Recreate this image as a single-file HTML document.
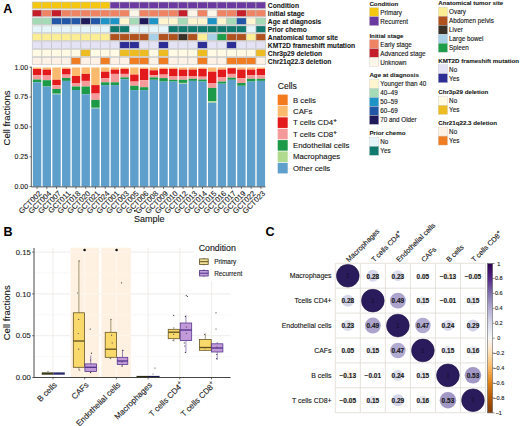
<!DOCTYPE html>
<html><head><meta charset="utf-8"><style>
html,body{margin:0;padding:0;background:#fff;width:520px;height:426px;overflow:hidden;position:relative}
text{stroke:#1a1a1a;stroke-width:0.12px;stroke-linejoin:round}
text[font-weight=bold]{stroke-width:0.08px}
</style></head><body>
<svg width="520" height="426" viewBox="0 0 520 426" style="position:absolute;left:0;top:0;font-family:'Liberation Sans', sans-serif"><rect width="520" height="426" fill="#fff"/><text x="3.2" y="12.7" font-size="12.5" font-weight="bold" fill="#000">A</text><text x="3.6" y="236.2" font-size="12.5" font-weight="bold" fill="#000">B</text><text x="265.6" y="235.9" font-size="12.5" font-weight="bold" fill="#000">C</text><rect x="32.20" y="2.00" width="9.73" height="6.6" fill="#F5C710" stroke="#BEBEBE" stroke-width="0.6"/><rect x="41.93" y="2.00" width="9.73" height="6.6" fill="#F5C710" stroke="#BEBEBE" stroke-width="0.6"/><rect x="51.66" y="2.00" width="9.73" height="6.6" fill="#F5C710" stroke="#BEBEBE" stroke-width="0.6"/><rect x="61.39" y="2.00" width="9.73" height="6.6" fill="#F5C710" stroke="#BEBEBE" stroke-width="0.6"/><rect x="71.12" y="2.00" width="9.73" height="6.6" fill="#F5C710" stroke="#BEBEBE" stroke-width="0.6"/><rect x="80.85" y="2.00" width="9.73" height="6.6" fill="#F5C710" stroke="#BEBEBE" stroke-width="0.6"/><rect x="90.58" y="2.00" width="9.73" height="6.6" fill="#F5C710" stroke="#BEBEBE" stroke-width="0.6"/><rect x="100.31" y="2.00" width="9.73" height="6.6" fill="#F5C710" stroke="#BEBEBE" stroke-width="0.6"/><rect x="110.04" y="2.00" width="9.73" height="6.6" fill="#6A3AA0" stroke="#BEBEBE" stroke-width="0.6"/><rect x="119.77" y="2.00" width="9.73" height="6.6" fill="#6A3AA0" stroke="#BEBEBE" stroke-width="0.6"/><rect x="129.50" y="2.00" width="9.73" height="6.6" fill="#6A3AA0" stroke="#BEBEBE" stroke-width="0.6"/><rect x="139.23" y="2.00" width="9.73" height="6.6" fill="#6A3AA0" stroke="#BEBEBE" stroke-width="0.6"/><rect x="148.96" y="2.00" width="9.73" height="6.6" fill="#6A3AA0" stroke="#BEBEBE" stroke-width="0.6"/><rect x="158.69" y="2.00" width="9.73" height="6.6" fill="#6A3AA0" stroke="#BEBEBE" stroke-width="0.6"/><rect x="168.42" y="2.00" width="9.73" height="6.6" fill="#6A3AA0" stroke="#BEBEBE" stroke-width="0.6"/><rect x="178.15" y="2.00" width="9.73" height="6.6" fill="#6A3AA0" stroke="#BEBEBE" stroke-width="0.6"/><rect x="187.88" y="2.00" width="9.73" height="6.6" fill="#6A3AA0" stroke="#BEBEBE" stroke-width="0.6"/><rect x="197.61" y="2.00" width="9.73" height="6.6" fill="#6A3AA0" stroke="#BEBEBE" stroke-width="0.6"/><rect x="207.34" y="2.00" width="9.73" height="6.6" fill="#6A3AA0" stroke="#BEBEBE" stroke-width="0.6"/><rect x="217.07" y="2.00" width="9.73" height="6.6" fill="#6A3AA0" stroke="#BEBEBE" stroke-width="0.6"/><rect x="226.80" y="2.00" width="9.73" height="6.6" fill="#6A3AA0" stroke="#BEBEBE" stroke-width="0.6"/><rect x="236.53" y="2.00" width="9.73" height="6.6" fill="#6A3AA0" stroke="#BEBEBE" stroke-width="0.6"/><rect x="246.26" y="2.00" width="9.73" height="6.6" fill="#6A3AA0" stroke="#BEBEBE" stroke-width="0.6"/><rect x="255.99" y="2.00" width="9.73" height="6.6" fill="#6A3AA0" stroke="#BEBEBE" stroke-width="0.6"/><rect x="32.20" y="9.95" width="9.73" height="6.6" fill="#C41E2A" stroke="#BEBEBE" stroke-width="0.6"/><rect x="41.93" y="9.95" width="9.73" height="6.6" fill="#EE8464" stroke="#BEBEBE" stroke-width="0.6"/><rect x="51.66" y="9.95" width="9.73" height="6.6" fill="#C41E2A" stroke="#BEBEBE" stroke-width="0.6"/><rect x="61.39" y="9.95" width="9.73" height="6.6" fill="#EE8464" stroke="#BEBEBE" stroke-width="0.6"/><rect x="71.12" y="9.95" width="9.73" height="6.6" fill="#EE8464" stroke="#BEBEBE" stroke-width="0.6"/><rect x="80.85" y="9.95" width="9.73" height="6.6" fill="#EE8464" stroke="#BEBEBE" stroke-width="0.6"/><rect x="90.58" y="9.95" width="9.73" height="6.6" fill="#EE8464" stroke="#BEBEBE" stroke-width="0.6"/><rect x="100.31" y="9.95" width="9.73" height="6.6" fill="#EE8464" stroke="#BEBEBE" stroke-width="0.6"/><rect x="110.04" y="9.95" width="9.73" height="6.6" fill="#EE8464" stroke="#BEBEBE" stroke-width="0.6"/><rect x="119.77" y="9.95" width="9.73" height="6.6" fill="#EE8464" stroke="#BEBEBE" stroke-width="0.6"/><rect x="129.50" y="9.95" width="9.73" height="6.6" fill="#FDF6E8" stroke="#BEBEBE" stroke-width="0.6"/><rect x="139.23" y="9.95" width="9.73" height="6.6" fill="#EE8464" stroke="#BEBEBE" stroke-width="0.6"/><rect x="148.96" y="9.95" width="9.73" height="6.6" fill="#EE8464" stroke="#BEBEBE" stroke-width="0.6"/><rect x="158.69" y="9.95" width="9.73" height="6.6" fill="#EE8464" stroke="#BEBEBE" stroke-width="0.6"/><rect x="168.42" y="9.95" width="9.73" height="6.6" fill="#EE8464" stroke="#BEBEBE" stroke-width="0.6"/><rect x="178.15" y="9.95" width="9.73" height="6.6" fill="#C41E2A" stroke="#BEBEBE" stroke-width="0.6"/><rect x="187.88" y="9.95" width="9.73" height="6.6" fill="#FDF6E8" stroke="#BEBEBE" stroke-width="0.6"/><rect x="197.61" y="9.95" width="9.73" height="6.6" fill="#EE8464" stroke="#BEBEBE" stroke-width="0.6"/><rect x="207.34" y="9.95" width="9.73" height="6.6" fill="#FDF6E8" stroke="#BEBEBE" stroke-width="0.6"/><rect x="217.07" y="9.95" width="9.73" height="6.6" fill="#EE8464" stroke="#BEBEBE" stroke-width="0.6"/><rect x="226.80" y="9.95" width="9.73" height="6.6" fill="#EE8464" stroke="#BEBEBE" stroke-width="0.6"/><rect x="236.53" y="9.95" width="9.73" height="6.6" fill="#C41E2A" stroke="#BEBEBE" stroke-width="0.6"/><rect x="246.26" y="9.95" width="9.73" height="6.6" fill="#EE8464" stroke="#BEBEBE" stroke-width="0.6"/><rect x="255.99" y="9.95" width="9.73" height="6.6" fill="#EE8464" stroke="#BEBEBE" stroke-width="0.6"/><rect x="32.20" y="17.90" width="9.73" height="6.6" fill="#A5DAB6" stroke="#BEBEBE" stroke-width="0.6"/><rect x="41.93" y="17.90" width="9.73" height="6.6" fill="#A5DAB6" stroke="#BEBEBE" stroke-width="0.6"/><rect x="51.66" y="17.90" width="9.73" height="6.6" fill="#2157A6" stroke="#BEBEBE" stroke-width="0.6"/><rect x="61.39" y="17.90" width="9.73" height="6.6" fill="#2157A6" stroke="#BEBEBE" stroke-width="0.6"/><rect x="71.12" y="17.90" width="9.73" height="6.6" fill="#2157A6" stroke="#BEBEBE" stroke-width="0.6"/><rect x="80.85" y="17.90" width="9.73" height="6.6" fill="#1F1A5A" stroke="#BEBEBE" stroke-width="0.6"/><rect x="90.58" y="17.90" width="9.73" height="6.6" fill="#2157A6" stroke="#BEBEBE" stroke-width="0.6"/><rect x="100.31" y="17.90" width="9.73" height="6.6" fill="#1E93C6" stroke="#BEBEBE" stroke-width="0.6"/><rect x="110.04" y="17.90" width="9.73" height="6.6" fill="#1E93C6" stroke="#BEBEBE" stroke-width="0.6"/><rect x="119.77" y="17.90" width="9.73" height="6.6" fill="#FFF6CF" stroke="#BEBEBE" stroke-width="0.6"/><rect x="129.50" y="17.90" width="9.73" height="6.6" fill="#A5DAB6" stroke="#BEBEBE" stroke-width="0.6"/><rect x="139.23" y="17.90" width="9.73" height="6.6" fill="#1F1A5A" stroke="#BEBEBE" stroke-width="0.6"/><rect x="148.96" y="17.90" width="9.73" height="6.6" fill="#1E93C6" stroke="#BEBEBE" stroke-width="0.6"/><rect x="158.69" y="17.90" width="9.73" height="6.6" fill="#FFF6CF" stroke="#BEBEBE" stroke-width="0.6"/><rect x="168.42" y="17.90" width="9.73" height="6.6" fill="#FFF6CF" stroke="#BEBEBE" stroke-width="0.6"/><rect x="178.15" y="17.90" width="9.73" height="6.6" fill="#A5DAB6" stroke="#BEBEBE" stroke-width="0.6"/><rect x="187.88" y="17.90" width="9.73" height="6.6" fill="#FFF6CF" stroke="#BEBEBE" stroke-width="0.6"/><rect x="197.61" y="17.90" width="9.73" height="6.6" fill="#FFF6CF" stroke="#BEBEBE" stroke-width="0.6"/><rect x="207.34" y="17.90" width="9.73" height="6.6" fill="#1E93C6" stroke="#BEBEBE" stroke-width="0.6"/><rect x="217.07" y="17.90" width="9.73" height="6.6" fill="#FFF6CF" stroke="#BEBEBE" stroke-width="0.6"/><rect x="226.80" y="17.90" width="9.73" height="6.6" fill="#A5DAB6" stroke="#BEBEBE" stroke-width="0.6"/><rect x="236.53" y="17.90" width="9.73" height="6.6" fill="#2157A6" stroke="#BEBEBE" stroke-width="0.6"/><rect x="246.26" y="17.90" width="9.73" height="6.6" fill="#FFF6CF" stroke="#BEBEBE" stroke-width="0.6"/><rect x="255.99" y="17.90" width="9.73" height="6.6" fill="#A5DAB6" stroke="#BEBEBE" stroke-width="0.6"/><rect x="32.20" y="25.85" width="9.73" height="6.6" fill="#E6F5F9" stroke="#BEBEBE" stroke-width="0.6"/><rect x="41.93" y="25.85" width="9.73" height="6.6" fill="#E6F5F9" stroke="#BEBEBE" stroke-width="0.6"/><rect x="51.66" y="25.85" width="9.73" height="6.6" fill="#E6F5F9" stroke="#BEBEBE" stroke-width="0.6"/><rect x="61.39" y="25.85" width="9.73" height="6.6" fill="#E6F5F9" stroke="#BEBEBE" stroke-width="0.6"/><rect x="71.12" y="25.85" width="9.73" height="6.6" fill="#E6F5F9" stroke="#BEBEBE" stroke-width="0.6"/><rect x="80.85" y="25.85" width="9.73" height="6.6" fill="#E6F5F9" stroke="#BEBEBE" stroke-width="0.6"/><rect x="90.58" y="25.85" width="9.73" height="6.6" fill="#E6F5F9" stroke="#BEBEBE" stroke-width="0.6"/><rect x="100.31" y="25.85" width="9.73" height="6.6" fill="#E6F5F9" stroke="#BEBEBE" stroke-width="0.6"/><rect x="110.04" y="25.85" width="9.73" height="6.6" fill="#12796F" stroke="#BEBEBE" stroke-width="0.6"/><rect x="119.77" y="25.85" width="9.73" height="6.6" fill="#12796F" stroke="#BEBEBE" stroke-width="0.6"/><rect x="129.50" y="25.85" width="9.73" height="6.6" fill="#E6F5F9" stroke="#BEBEBE" stroke-width="0.6"/><rect x="139.23" y="25.85" width="9.73" height="6.6" fill="#E6F5F9" stroke="#BEBEBE" stroke-width="0.6"/><rect x="148.96" y="25.85" width="9.73" height="6.6" fill="#E6F5F9" stroke="#BEBEBE" stroke-width="0.6"/><rect x="158.69" y="25.85" width="9.73" height="6.6" fill="#E6F5F9" stroke="#BEBEBE" stroke-width="0.6"/><rect x="168.42" y="25.85" width="9.73" height="6.6" fill="#12796F" stroke="#BEBEBE" stroke-width="0.6"/><rect x="178.15" y="25.85" width="9.73" height="6.6" fill="#12796F" stroke="#BEBEBE" stroke-width="0.6"/><rect x="187.88" y="25.85" width="9.73" height="6.6" fill="#12796F" stroke="#BEBEBE" stroke-width="0.6"/><rect x="197.61" y="25.85" width="9.73" height="6.6" fill="#12796F" stroke="#BEBEBE" stroke-width="0.6"/><rect x="207.34" y="25.85" width="9.73" height="6.6" fill="#12796F" stroke="#BEBEBE" stroke-width="0.6"/><rect x="217.07" y="25.85" width="9.73" height="6.6" fill="#12796F" stroke="#BEBEBE" stroke-width="0.6"/><rect x="226.80" y="25.85" width="9.73" height="6.6" fill="#12796F" stroke="#BEBEBE" stroke-width="0.6"/><rect x="236.53" y="25.85" width="9.73" height="6.6" fill="#12796F" stroke="#BEBEBE" stroke-width="0.6"/><rect x="246.26" y="25.85" width="9.73" height="6.6" fill="#E6F5F9" stroke="#BEBEBE" stroke-width="0.6"/><rect x="255.99" y="25.85" width="9.73" height="6.6" fill="#12796F" stroke="#BEBEBE" stroke-width="0.6"/><rect x="32.20" y="33.80" width="9.73" height="6.6" fill="#FBEE94" stroke="#BEBEBE" stroke-width="0.6"/><rect x="41.93" y="33.80" width="9.73" height="6.6" fill="#FBEE94" stroke="#BEBEBE" stroke-width="0.6"/><rect x="51.66" y="33.80" width="9.73" height="6.6" fill="#FBEE94" stroke="#BEBEBE" stroke-width="0.6"/><rect x="61.39" y="33.80" width="9.73" height="6.6" fill="#FBEE94" stroke="#BEBEBE" stroke-width="0.6"/><rect x="71.12" y="33.80" width="9.73" height="6.6" fill="#FBEE94" stroke="#BEBEBE" stroke-width="0.6"/><rect x="80.85" y="33.80" width="9.73" height="6.6" fill="#FBEE94" stroke="#BEBEBE" stroke-width="0.6"/><rect x="90.58" y="33.80" width="9.73" height="6.6" fill="#FBEE94" stroke="#BEBEBE" stroke-width="0.6"/><rect x="100.31" y="33.80" width="9.73" height="6.6" fill="#FBEE94" stroke="#BEBEBE" stroke-width="0.6"/><rect x="110.04" y="33.80" width="9.73" height="6.6" fill="#B0521E" stroke="#BEBEBE" stroke-width="0.6"/><rect x="119.77" y="33.80" width="9.73" height="6.6" fill="#B0521E" stroke="#BEBEBE" stroke-width="0.6"/><rect x="129.50" y="33.80" width="9.73" height="6.6" fill="#B0521E" stroke="#BEBEBE" stroke-width="0.6"/><rect x="139.23" y="33.80" width="9.73" height="6.6" fill="#B0521E" stroke="#BEBEBE" stroke-width="0.6"/><rect x="148.96" y="33.80" width="9.73" height="6.6" fill="#A8D0E6" stroke="#BEBEBE" stroke-width="0.6"/><rect x="158.69" y="33.80" width="9.73" height="6.6" fill="#B0521E" stroke="#BEBEBE" stroke-width="0.6"/><rect x="168.42" y="33.80" width="9.73" height="6.6" fill="#B0521E" stroke="#BEBEBE" stroke-width="0.6"/><rect x="178.15" y="33.80" width="9.73" height="6.6" fill="#3A3228" stroke="#BEBEBE" stroke-width="0.6"/><rect x="187.88" y="33.80" width="9.73" height="6.6" fill="#B0521E" stroke="#BEBEBE" stroke-width="0.6"/><rect x="197.61" y="33.80" width="9.73" height="6.6" fill="#FBEE94" stroke="#BEBEBE" stroke-width="0.6"/><rect x="207.34" y="33.80" width="9.73" height="6.6" fill="#A8D0E6" stroke="#BEBEBE" stroke-width="0.6"/><rect x="217.07" y="33.80" width="9.73" height="6.6" fill="#1E9E4A" stroke="#BEBEBE" stroke-width="0.6"/><rect x="226.80" y="33.80" width="9.73" height="6.6" fill="#B0521E" stroke="#BEBEBE" stroke-width="0.6"/><rect x="236.53" y="33.80" width="9.73" height="6.6" fill="#B0521E" stroke="#BEBEBE" stroke-width="0.6"/><rect x="246.26" y="33.80" width="9.73" height="6.6" fill="#FBEE94" stroke="#BEBEBE" stroke-width="0.6"/><rect x="255.99" y="33.80" width="9.73" height="6.6" fill="#B0521E" stroke="#BEBEBE" stroke-width="0.6"/><rect x="32.20" y="41.75" width="9.73" height="6.6" fill="#E4E2F5" stroke="#BEBEBE" stroke-width="0.6"/><rect x="41.93" y="41.75" width="9.73" height="6.6" fill="#E4E2F5" stroke="#BEBEBE" stroke-width="0.6"/><rect x="51.66" y="41.75" width="9.73" height="6.6" fill="#E4E2F5" stroke="#BEBEBE" stroke-width="0.6"/><rect x="61.39" y="41.75" width="9.73" height="6.6" fill="#E4E2F5" stroke="#BEBEBE" stroke-width="0.6"/><rect x="71.12" y="41.75" width="9.73" height="6.6" fill="#E4E2F5" stroke="#BEBEBE" stroke-width="0.6"/><rect x="80.85" y="41.75" width="9.73" height="6.6" fill="#E4E2F5" stroke="#BEBEBE" stroke-width="0.6"/><rect x="90.58" y="41.75" width="9.73" height="6.6" fill="#E4E2F5" stroke="#BEBEBE" stroke-width="0.6"/><rect x="100.31" y="41.75" width="9.73" height="6.6" fill="#E4E2F5" stroke="#BEBEBE" stroke-width="0.6"/><rect x="110.04" y="41.75" width="9.73" height="6.6" fill="#E4E2F5" stroke="#BEBEBE" stroke-width="0.6"/><rect x="119.77" y="41.75" width="9.73" height="6.6" fill="#2C2E96" stroke="#BEBEBE" stroke-width="0.6"/><rect x="129.50" y="41.75" width="9.73" height="6.6" fill="#2C2E96" stroke="#BEBEBE" stroke-width="0.6"/><rect x="139.23" y="41.75" width="9.73" height="6.6" fill="#E4E2F5" stroke="#BEBEBE" stroke-width="0.6"/><rect x="148.96" y="41.75" width="9.73" height="6.6" fill="#E4E2F5" stroke="#BEBEBE" stroke-width="0.6"/><rect x="158.69" y="41.75" width="9.73" height="6.6" fill="#2C2E96" stroke="#BEBEBE" stroke-width="0.6"/><rect x="168.42" y="41.75" width="9.73" height="6.6" fill="#E4E2F5" stroke="#BEBEBE" stroke-width="0.6"/><rect x="178.15" y="41.75" width="9.73" height="6.6" fill="#E4E2F5" stroke="#BEBEBE" stroke-width="0.6"/><rect x="187.88" y="41.75" width="9.73" height="6.6" fill="#E4E2F5" stroke="#BEBEBE" stroke-width="0.6"/><rect x="197.61" y="41.75" width="9.73" height="6.6" fill="#2C2E96" stroke="#BEBEBE" stroke-width="0.6"/><rect x="207.34" y="41.75" width="9.73" height="6.6" fill="#E4E2F5" stroke="#BEBEBE" stroke-width="0.6"/><rect x="217.07" y="41.75" width="9.73" height="6.6" fill="#E4E2F5" stroke="#BEBEBE" stroke-width="0.6"/><rect x="226.80" y="41.75" width="9.73" height="6.6" fill="#2C2E96" stroke="#BEBEBE" stroke-width="0.6"/><rect x="236.53" y="41.75" width="9.73" height="6.6" fill="#E4E2F5" stroke="#BEBEBE" stroke-width="0.6"/><rect x="246.26" y="41.75" width="9.73" height="6.6" fill="#E4E2F5" stroke="#BEBEBE" stroke-width="0.6"/><rect x="255.99" y="41.75" width="9.73" height="6.6" fill="#E4E2F5" stroke="#BEBEBE" stroke-width="0.6"/><rect x="32.20" y="49.70" width="9.73" height="6.6" fill="#FFFAE4" stroke="#BEBEBE" stroke-width="0.6"/><rect x="41.93" y="49.70" width="9.73" height="6.6" fill="#FFFAE4" stroke="#BEBEBE" stroke-width="0.6"/><rect x="51.66" y="49.70" width="9.73" height="6.6" fill="#FFFAE4" stroke="#BEBEBE" stroke-width="0.6"/><rect x="61.39" y="49.70" width="9.73" height="6.6" fill="#FFFAE4" stroke="#BEBEBE" stroke-width="0.6"/><rect x="71.12" y="49.70" width="9.73" height="6.6" fill="#FFFAE4" stroke="#BEBEBE" stroke-width="0.6"/><rect x="80.85" y="49.70" width="9.73" height="6.6" fill="#EDBB22" stroke="#BEBEBE" stroke-width="0.6"/><rect x="90.58" y="49.70" width="9.73" height="6.6" fill="#FFFAE4" stroke="#BEBEBE" stroke-width="0.6"/><rect x="100.31" y="49.70" width="9.73" height="6.6" fill="#FFFAE4" stroke="#BEBEBE" stroke-width="0.6"/><rect x="110.04" y="49.70" width="9.73" height="6.6" fill="#FFFAE4" stroke="#BEBEBE" stroke-width="0.6"/><rect x="119.77" y="49.70" width="9.73" height="6.6" fill="#EDBB22" stroke="#BEBEBE" stroke-width="0.6"/><rect x="129.50" y="49.70" width="9.73" height="6.6" fill="#EDBB22" stroke="#BEBEBE" stroke-width="0.6"/><rect x="139.23" y="49.70" width="9.73" height="6.6" fill="#EDBB22" stroke="#BEBEBE" stroke-width="0.6"/><rect x="148.96" y="49.70" width="9.73" height="6.6" fill="#FFFAE4" stroke="#BEBEBE" stroke-width="0.6"/><rect x="158.69" y="49.70" width="9.73" height="6.6" fill="#EDBB22" stroke="#BEBEBE" stroke-width="0.6"/><rect x="168.42" y="49.70" width="9.73" height="6.6" fill="#FFFAE4" stroke="#BEBEBE" stroke-width="0.6"/><rect x="178.15" y="49.70" width="9.73" height="6.6" fill="#FFFAE4" stroke="#BEBEBE" stroke-width="0.6"/><rect x="187.88" y="49.70" width="9.73" height="6.6" fill="#FFFAE4" stroke="#BEBEBE" stroke-width="0.6"/><rect x="197.61" y="49.70" width="9.73" height="6.6" fill="#EDBB22" stroke="#BEBEBE" stroke-width="0.6"/><rect x="207.34" y="49.70" width="9.73" height="6.6" fill="#FFFAE4" stroke="#BEBEBE" stroke-width="0.6"/><rect x="217.07" y="49.70" width="9.73" height="6.6" fill="#FFFAE4" stroke="#BEBEBE" stroke-width="0.6"/><rect x="226.80" y="49.70" width="9.73" height="6.6" fill="#FFFAE4" stroke="#BEBEBE" stroke-width="0.6"/><rect x="236.53" y="49.70" width="9.73" height="6.6" fill="#FFFAE4" stroke="#BEBEBE" stroke-width="0.6"/><rect x="246.26" y="49.70" width="9.73" height="6.6" fill="#FFFAE4" stroke="#BEBEBE" stroke-width="0.6"/><rect x="255.99" y="49.70" width="9.73" height="6.6" fill="#EDBB22" stroke="#BEBEBE" stroke-width="0.6"/><rect x="32.20" y="57.65" width="9.73" height="6.6" fill="#FEF2E6" stroke="#BEBEBE" stroke-width="0.6"/><rect x="41.93" y="57.65" width="9.73" height="6.6" fill="#FEF2E6" stroke="#BEBEBE" stroke-width="0.6"/><rect x="51.66" y="57.65" width="9.73" height="6.6" fill="#FEF2E6" stroke="#BEBEBE" stroke-width="0.6"/><rect x="61.39" y="57.65" width="9.73" height="6.6" fill="#FEF2E6" stroke="#BEBEBE" stroke-width="0.6"/><rect x="71.12" y="57.65" width="9.73" height="6.6" fill="#F07D22" stroke="#BEBEBE" stroke-width="0.6"/><rect x="80.85" y="57.65" width="9.73" height="6.6" fill="#FEF2E6" stroke="#BEBEBE" stroke-width="0.6"/><rect x="90.58" y="57.65" width="9.73" height="6.6" fill="#FEF2E6" stroke="#BEBEBE" stroke-width="0.6"/><rect x="100.31" y="57.65" width="9.73" height="6.6" fill="#F07D22" stroke="#BEBEBE" stroke-width="0.6"/><rect x="110.04" y="57.65" width="9.73" height="6.6" fill="#FEF2E6" stroke="#BEBEBE" stroke-width="0.6"/><rect x="119.77" y="57.65" width="9.73" height="6.6" fill="#FEF2E6" stroke="#BEBEBE" stroke-width="0.6"/><rect x="129.50" y="57.65" width="9.73" height="6.6" fill="#F07D22" stroke="#BEBEBE" stroke-width="0.6"/><rect x="139.23" y="57.65" width="9.73" height="6.6" fill="#F07D22" stroke="#BEBEBE" stroke-width="0.6"/><rect x="148.96" y="57.65" width="9.73" height="6.6" fill="#FEF2E6" stroke="#BEBEBE" stroke-width="0.6"/><rect x="158.69" y="57.65" width="9.73" height="6.6" fill="#F07D22" stroke="#BEBEBE" stroke-width="0.6"/><rect x="168.42" y="57.65" width="9.73" height="6.6" fill="#FEF2E6" stroke="#BEBEBE" stroke-width="0.6"/><rect x="178.15" y="57.65" width="9.73" height="6.6" fill="#FEF2E6" stroke="#BEBEBE" stroke-width="0.6"/><rect x="187.88" y="57.65" width="9.73" height="6.6" fill="#FEF2E6" stroke="#BEBEBE" stroke-width="0.6"/><rect x="197.61" y="57.65" width="9.73" height="6.6" fill="#F07D22" stroke="#BEBEBE" stroke-width="0.6"/><rect x="207.34" y="57.65" width="9.73" height="6.6" fill="#FEF2E6" stroke="#BEBEBE" stroke-width="0.6"/><rect x="217.07" y="57.65" width="9.73" height="6.6" fill="#FEF2E6" stroke="#BEBEBE" stroke-width="0.6"/><rect x="226.80" y="57.65" width="9.73" height="6.6" fill="#F07D22" stroke="#BEBEBE" stroke-width="0.6"/><rect x="236.53" y="57.65" width="9.73" height="6.6" fill="#F07D22" stroke="#BEBEBE" stroke-width="0.6"/><rect x="246.26" y="57.65" width="9.73" height="6.6" fill="#F07D22" stroke="#BEBEBE" stroke-width="0.6"/><rect x="255.99" y="57.65" width="9.73" height="6.6" fill="#FEF2E6" stroke="#BEBEBE" stroke-width="0.6"/><text x="267.8" y="8.00" font-size="6.7" font-weight="bold" fill="#141414">Condition</text><text x="267.8" y="15.95" font-size="6.7" font-weight="bold" fill="#141414">Initial stage</text><text x="267.8" y="23.90" font-size="6.7" font-weight="bold" fill="#141414">Age at diagnosis</text><text x="267.8" y="31.85" font-size="6.7" font-weight="bold" fill="#141414">Prior chemo</text><text x="267.8" y="39.80" font-size="6.7" font-weight="bold" fill="#141414">Anatomical tumor site</text><text x="267.8" y="47.75" font-size="6.7" font-weight="bold" fill="#141414">KMT2D frameshift mutation</text><text x="267.8" y="55.70" font-size="6.7" font-weight="bold" fill="#141414">Chr3p29 deletion</text><text x="267.8" y="63.65" font-size="6.7" font-weight="bold" fill="#141414">Chr21q22.3 deletion</text><rect x="32.87" y="67.50" width="8.4" height="1.50" fill="#FBBA6E"/><rect x="32.87" y="69.00" width="8.4" height="6.30" fill="#E31A1C"/><rect x="32.87" y="75.30" width="8.4" height="4.20" fill="#F59A9B"/><rect x="32.87" y="79.50" width="8.4" height="2.80" fill="#1C9A48"/><rect x="32.87" y="82.30" width="8.4" height="104.30" fill="#5F9FCB"/><rect x="42.60" y="67.50" width="8.4" height="2.10" fill="#FBBA6E"/><rect x="42.60" y="69.60" width="8.4" height="5.90" fill="#E31A1C"/><rect x="42.60" y="75.50" width="8.4" height="4.70" fill="#F59A9B"/><rect x="42.60" y="80.20" width="8.4" height="6.30" fill="#1C9A48"/><rect x="42.60" y="86.50" width="8.4" height="100.10" fill="#5F9FCB"/><rect x="52.33" y="67.50" width="8.4" height="12.30" fill="#FBBA6E"/><rect x="52.33" y="79.80" width="8.4" height="5.30" fill="#E31A1C"/><rect x="52.33" y="85.10" width="8.4" height="3.90" fill="#F59A9B"/><rect x="52.33" y="89.00" width="8.4" height="4.70" fill="#1C9A48"/><rect x="52.33" y="93.70" width="8.4" height="0.60" fill="#B0DA8D"/><rect x="52.33" y="94.30" width="8.4" height="92.30" fill="#5F9FCB"/><rect x="62.05" y="67.50" width="8.4" height="1.40" fill="#FBBA6E"/><rect x="62.05" y="68.90" width="8.4" height="5.70" fill="#E31A1C"/><rect x="62.05" y="74.60" width="8.4" height="3.40" fill="#F59A9B"/><rect x="62.05" y="78.00" width="8.4" height="2.90" fill="#1C9A48"/><rect x="62.05" y="80.90" width="8.4" height="105.70" fill="#5F9FCB"/><rect x="71.79" y="67.50" width="8.4" height="8.50" fill="#FBBA6E"/><rect x="71.79" y="76.00" width="8.4" height="7.00" fill="#E31A1C"/><rect x="71.79" y="83.00" width="8.4" height="3.50" fill="#F59A9B"/><rect x="71.79" y="86.50" width="8.4" height="3.50" fill="#1C9A48"/><rect x="71.79" y="90.00" width="8.4" height="96.60" fill="#5F9FCB"/><rect x="81.52" y="67.50" width="8.4" height="6.40" fill="#FBBA6E"/><rect x="81.52" y="73.90" width="8.4" height="7.00" fill="#E31A1C"/><rect x="81.52" y="80.90" width="8.4" height="5.60" fill="#F59A9B"/><rect x="81.52" y="86.50" width="8.4" height="7.80" fill="#1C9A48"/><rect x="81.52" y="94.30" width="8.4" height="92.30" fill="#5F9FCB"/><rect x="91.25" y="67.50" width="8.4" height="17.60" fill="#FBBA6E"/><rect x="91.25" y="85.10" width="8.4" height="8.50" fill="#E31A1C"/><rect x="91.25" y="93.60" width="8.4" height="6.30" fill="#F59A9B"/><rect x="91.25" y="99.90" width="8.4" height="7.90" fill="#1C9A48"/><rect x="91.25" y="107.80" width="8.4" height="0.60" fill="#B0DA8D"/><rect x="91.25" y="108.40" width="8.4" height="78.20" fill="#5F9FCB"/><rect x="100.98" y="67.50" width="8.4" height="4.20" fill="#FBBA6E"/><rect x="100.98" y="71.70" width="8.4" height="6.40" fill="#E31A1C"/><rect x="100.98" y="78.10" width="8.4" height="4.20" fill="#F59A9B"/><rect x="100.98" y="82.30" width="8.4" height="2.80" fill="#1C9A48"/><rect x="100.98" y="85.10" width="8.4" height="101.50" fill="#5F9FCB"/><rect x="110.71" y="67.50" width="8.4" height="2.10" fill="#FBBA6E"/><rect x="110.71" y="69.60" width="8.4" height="4.30" fill="#E31A1C"/><rect x="110.71" y="73.90" width="8.4" height="8.40" fill="#F59A9B"/><rect x="110.71" y="82.30" width="8.4" height="2.80" fill="#1C9A48"/><rect x="110.71" y="85.10" width="8.4" height="101.50" fill="#5F9FCB"/><rect x="120.44" y="67.50" width="8.4" height="1.40" fill="#FBBA6E"/><rect x="120.44" y="68.90" width="8.4" height="5.00" fill="#E31A1C"/><rect x="120.44" y="73.90" width="8.4" height="3.50" fill="#F59A9B"/><rect x="120.44" y="77.40" width="8.4" height="1.80" fill="#1C9A48"/><rect x="120.44" y="79.20" width="8.4" height="107.40" fill="#5F9FCB"/><rect x="130.16" y="67.50" width="8.4" height="7.10" fill="#FBBA6E"/><rect x="130.16" y="74.60" width="8.4" height="7.00" fill="#E31A1C"/><rect x="130.16" y="81.60" width="8.4" height="4.20" fill="#F59A9B"/><rect x="130.16" y="85.80" width="8.4" height="4.30" fill="#1C9A48"/><rect x="130.16" y="90.10" width="8.4" height="96.50" fill="#5F9FCB"/><rect x="139.90" y="67.50" width="8.4" height="1.40" fill="#FBBA6E"/><rect x="139.90" y="68.90" width="8.4" height="11.30" fill="#E31A1C"/><rect x="139.90" y="80.20" width="8.4" height="7.00" fill="#F59A9B"/><rect x="139.90" y="87.20" width="8.4" height="2.90" fill="#1C9A48"/><rect x="139.90" y="90.10" width="8.4" height="96.50" fill="#5F9FCB"/><rect x="149.62" y="67.50" width="8.4" height="2.80" fill="#FBBA6E"/><rect x="149.62" y="70.30" width="8.4" height="5.00" fill="#E31A1C"/><rect x="149.62" y="75.30" width="8.4" height="2.10" fill="#F59A9B"/><rect x="149.62" y="77.40" width="8.4" height="2.40" fill="#1C9A48"/><rect x="149.62" y="79.80" width="8.4" height="106.80" fill="#5F9FCB"/><rect x="159.35" y="67.50" width="8.4" height="1.40" fill="#FBBA6E"/><rect x="159.35" y="68.90" width="8.4" height="5.70" fill="#E31A1C"/><rect x="159.35" y="74.60" width="8.4" height="3.50" fill="#F59A9B"/><rect x="159.35" y="78.10" width="8.4" height="3.50" fill="#1C9A48"/><rect x="159.35" y="81.60" width="8.4" height="105.00" fill="#5F9FCB"/><rect x="169.09" y="67.50" width="8.4" height="1.40" fill="#FBBA6E"/><rect x="169.09" y="68.90" width="8.4" height="7.10" fill="#E31A1C"/><rect x="169.09" y="76.00" width="8.4" height="3.80" fill="#F59A9B"/><rect x="169.09" y="79.80" width="8.4" height="1.80" fill="#1C9A48"/><rect x="169.09" y="81.60" width="8.4" height="105.00" fill="#5F9FCB"/><rect x="178.82" y="67.50" width="8.4" height="2.10" fill="#FBBA6E"/><rect x="178.82" y="69.60" width="8.4" height="6.40" fill="#E31A1C"/><rect x="178.82" y="76.00" width="8.4" height="3.80" fill="#F59A9B"/><rect x="178.82" y="79.80" width="8.4" height="3.10" fill="#1C9A48"/><rect x="178.82" y="82.90" width="8.4" height="0.80" fill="#B0DA8D"/><rect x="178.82" y="83.70" width="8.4" height="102.90" fill="#5F9FCB"/><rect x="188.54" y="67.50" width="8.4" height="2.10" fill="#FBBA6E"/><rect x="188.54" y="69.60" width="8.4" height="6.40" fill="#E31A1C"/><rect x="188.54" y="76.00" width="8.4" height="2.80" fill="#F59A9B"/><rect x="188.54" y="78.80" width="8.4" height="2.10" fill="#1C9A48"/><rect x="188.54" y="80.90" width="8.4" height="105.70" fill="#5F9FCB"/><rect x="198.28" y="67.50" width="8.4" height="1.40" fill="#FBBA6E"/><rect x="198.28" y="68.90" width="8.4" height="7.80" fill="#E31A1C"/><rect x="198.28" y="76.70" width="8.4" height="2.80" fill="#F59A9B"/><rect x="198.28" y="79.50" width="8.4" height="2.10" fill="#1C9A48"/><rect x="198.28" y="81.60" width="8.4" height="105.00" fill="#5F9FCB"/><rect x="208.01" y="67.50" width="8.4" height="4.20" fill="#FBBA6E"/><rect x="208.01" y="71.70" width="8.4" height="11.30" fill="#E31A1C"/><rect x="208.01" y="83.00" width="8.4" height="4.90" fill="#F59A9B"/><rect x="208.01" y="87.90" width="8.4" height="13.40" fill="#1C9A48"/><rect x="208.01" y="101.30" width="8.4" height="1.40" fill="#B0DA8D"/><rect x="208.01" y="102.70" width="8.4" height="83.90" fill="#5F9FCB"/><rect x="217.73" y="67.50" width="8.4" height="2.10" fill="#FBBA6E"/><rect x="217.73" y="69.60" width="8.4" height="7.80" fill="#E31A1C"/><rect x="217.73" y="77.40" width="8.4" height="4.20" fill="#F59A9B"/><rect x="217.73" y="81.60" width="8.4" height="2.10" fill="#1C9A48"/><rect x="217.73" y="83.70" width="8.4" height="102.90" fill="#5F9FCB"/><rect x="227.47" y="67.50" width="8.4" height="0.70" fill="#FBBA6E"/><rect x="227.47" y="68.20" width="8.4" height="5.70" fill="#E31A1C"/><rect x="227.47" y="73.90" width="8.4" height="3.80" fill="#F59A9B"/><rect x="227.47" y="77.70" width="8.4" height="2.10" fill="#1C9A48"/><rect x="227.47" y="79.80" width="8.4" height="106.80" fill="#5F9FCB"/><rect x="237.20" y="67.50" width="8.4" height="2.10" fill="#FBBA6E"/><rect x="237.20" y="69.60" width="8.4" height="8.50" fill="#E31A1C"/><rect x="237.20" y="78.10" width="8.4" height="4.90" fill="#F59A9B"/><rect x="237.20" y="83.00" width="8.4" height="2.80" fill="#1C9A48"/><rect x="237.20" y="85.80" width="8.4" height="100.80" fill="#5F9FCB"/><rect x="246.92" y="67.50" width="8.4" height="2.10" fill="#FBBA6E"/><rect x="246.92" y="69.60" width="8.4" height="5.70" fill="#E31A1C"/><rect x="246.92" y="75.30" width="8.4" height="3.50" fill="#F59A9B"/><rect x="246.92" y="78.80" width="8.4" height="2.80" fill="#1C9A48"/><rect x="246.92" y="81.60" width="8.4" height="105.00" fill="#5F9FCB"/><rect x="256.66" y="67.50" width="8.4" height="1.40" fill="#FBBA6E"/><rect x="256.66" y="68.90" width="8.4" height="6.40" fill="#E31A1C"/><rect x="256.66" y="75.30" width="8.4" height="3.50" fill="#F59A9B"/><rect x="256.66" y="78.80" width="8.4" height="2.10" fill="#1C9A48"/><rect x="256.66" y="80.90" width="8.4" height="105.70" fill="#5F9FCB"/><line x1="31.3" y1="66.7" x2="31.3" y2="186.9" stroke="#333" stroke-width="0.8"/><line x1="31.3" y1="186.9" x2="265.5" y2="186.9" stroke="#333" stroke-width="0.8"/><line x1="29.5" y1="186.60" x2="31.3" y2="186.60" stroke="#333" stroke-width="0.7"/><text x="28" y="189.00" font-size="6.9" text-anchor="end" fill="#222">0.00</text><line x1="29.5" y1="156.75" x2="31.3" y2="156.75" stroke="#333" stroke-width="0.7"/><text x="28" y="159.15" font-size="6.9" text-anchor="end" fill="#222">0.25</text><line x1="29.5" y1="126.90" x2="31.3" y2="126.90" stroke="#333" stroke-width="0.7"/><text x="28" y="129.30" font-size="6.9" text-anchor="end" fill="#222">0.50</text><line x1="29.5" y1="97.05" x2="31.3" y2="97.05" stroke="#333" stroke-width="0.7"/><text x="28" y="99.45" font-size="6.9" text-anchor="end" fill="#222">0.75</text><line x1="29.5" y1="67.20" x2="31.3" y2="67.20" stroke="#333" stroke-width="0.7"/><text x="28" y="69.60" font-size="6.9" text-anchor="end" fill="#222">1.00</text><text transform="translate(9.5,118.0) rotate(-90)" font-size="9.5" text-anchor="middle" fill="#141414">Cell fractions</text><line x1="37.07" y1="186.9" x2="37.07" y2="188.9" stroke="#333" stroke-width="0.7"/><text transform="translate(41.97,193.90) rotate(-45)" font-size="7.6" text-anchor="end" fill="#2a2a2a">GCT002</text><line x1="46.80" y1="186.9" x2="46.80" y2="188.9" stroke="#333" stroke-width="0.7"/><text transform="translate(51.70,193.90) rotate(-45)" font-size="7.6" text-anchor="end" fill="#2a2a2a">GCT004</text><line x1="56.53" y1="186.9" x2="56.53" y2="188.9" stroke="#333" stroke-width="0.7"/><text transform="translate(61.43,193.90) rotate(-45)" font-size="7.6" text-anchor="end" fill="#2a2a2a">GCT007</text><line x1="66.25" y1="186.9" x2="66.25" y2="188.9" stroke="#333" stroke-width="0.7"/><text transform="translate(71.16,193.90) rotate(-45)" font-size="7.6" text-anchor="end" fill="#2a2a2a">GCT011</text><line x1="75.98" y1="186.9" x2="75.98" y2="188.9" stroke="#333" stroke-width="0.7"/><text transform="translate(80.89,193.90) rotate(-45)" font-size="7.6" text-anchor="end" fill="#2a2a2a">GCT018</text><line x1="85.72" y1="186.9" x2="85.72" y2="188.9" stroke="#333" stroke-width="0.7"/><text transform="translate(90.62,193.90) rotate(-45)" font-size="7.6" text-anchor="end" fill="#2a2a2a">GCT020</text><line x1="95.45" y1="186.9" x2="95.45" y2="188.9" stroke="#333" stroke-width="0.7"/><text transform="translate(100.35,193.90) rotate(-45)" font-size="7.6" text-anchor="end" fill="#2a2a2a">GCT021</text><line x1="105.17" y1="186.9" x2="105.17" y2="188.9" stroke="#333" stroke-width="0.7"/><text transform="translate(110.08,193.90) rotate(-45)" font-size="7.6" text-anchor="end" fill="#2a2a2a">GCT024</text><line x1="114.91" y1="186.9" x2="114.91" y2="188.9" stroke="#333" stroke-width="0.7"/><text transform="translate(119.81,193.90) rotate(-45)" font-size="7.6" text-anchor="end" fill="#2a2a2a">GCT001</text><line x1="124.64" y1="186.9" x2="124.64" y2="188.9" stroke="#333" stroke-width="0.7"/><text transform="translate(129.53,193.90) rotate(-45)" font-size="7.6" text-anchor="end" fill="#2a2a2a">GCT003</text><line x1="134.37" y1="186.9" x2="134.37" y2="188.9" stroke="#333" stroke-width="0.7"/><text transform="translate(139.27,193.90) rotate(-45)" font-size="7.6" text-anchor="end" fill="#2a2a2a">GCT005</text><line x1="144.10" y1="186.9" x2="144.10" y2="188.9" stroke="#333" stroke-width="0.7"/><text transform="translate(149.00,193.90) rotate(-45)" font-size="7.6" text-anchor="end" fill="#2a2a2a">GCT006</text><line x1="153.83" y1="186.9" x2="153.83" y2="188.9" stroke="#333" stroke-width="0.7"/><text transform="translate(158.73,193.90) rotate(-45)" font-size="7.6" text-anchor="end" fill="#2a2a2a">GCT008</text><line x1="163.56" y1="186.9" x2="163.56" y2="188.9" stroke="#333" stroke-width="0.7"/><text transform="translate(168.46,193.90) rotate(-45)" font-size="7.6" text-anchor="end" fill="#2a2a2a">GCT009</text><line x1="173.29" y1="186.9" x2="173.29" y2="188.9" stroke="#333" stroke-width="0.7"/><text transform="translate(178.19,193.90) rotate(-45)" font-size="7.6" text-anchor="end" fill="#2a2a2a">GCT010</text><line x1="183.02" y1="186.9" x2="183.02" y2="188.9" stroke="#333" stroke-width="0.7"/><text transform="translate(187.92,193.90) rotate(-45)" font-size="7.6" text-anchor="end" fill="#2a2a2a">GCT012</text><line x1="192.75" y1="186.9" x2="192.75" y2="188.9" stroke="#333" stroke-width="0.7"/><text transform="translate(197.65,193.90) rotate(-45)" font-size="7.6" text-anchor="end" fill="#2a2a2a">GCT013</text><line x1="202.48" y1="186.9" x2="202.48" y2="188.9" stroke="#333" stroke-width="0.7"/><text transform="translate(207.38,193.90) rotate(-45)" font-size="7.6" text-anchor="end" fill="#2a2a2a">GCT014</text><line x1="212.21" y1="186.9" x2="212.21" y2="188.9" stroke="#333" stroke-width="0.7"/><text transform="translate(217.11,193.90) rotate(-45)" font-size="7.6" text-anchor="end" fill="#2a2a2a">GCT015</text><line x1="221.94" y1="186.9" x2="221.94" y2="188.9" stroke="#333" stroke-width="0.7"/><text transform="translate(226.84,193.90) rotate(-45)" font-size="7.6" text-anchor="end" fill="#2a2a2a">GCT016</text><line x1="231.67" y1="186.9" x2="231.67" y2="188.9" stroke="#333" stroke-width="0.7"/><text transform="translate(236.57,193.90) rotate(-45)" font-size="7.6" text-anchor="end" fill="#2a2a2a">GCT017</text><line x1="241.40" y1="186.9" x2="241.40" y2="188.9" stroke="#333" stroke-width="0.7"/><text transform="translate(246.30,193.90) rotate(-45)" font-size="7.6" text-anchor="end" fill="#2a2a2a">GCT019</text><line x1="251.12" y1="186.9" x2="251.12" y2="188.9" stroke="#333" stroke-width="0.7"/><text transform="translate(256.02,193.90) rotate(-45)" font-size="7.6" text-anchor="end" fill="#2a2a2a">GCT022</text><line x1="260.86" y1="186.9" x2="260.86" y2="188.9" stroke="#333" stroke-width="0.7"/><text transform="translate(265.75,193.90) rotate(-45)" font-size="7.6" text-anchor="end" fill="#2a2a2a">GCT023</text><text x="149.2" y="222.2" font-size="9" text-anchor="middle" fill="#141414">Sample</text><circle cx="134.9" cy="210.8" r="0.9" fill="#000"/><text x="277.7" y="88.6" font-size="8.6" fill="#141414">Cells</text><rect x="277.7" y="94.60" width="10" height="10.6" fill="#F47A20"/><text x="293" y="102.60" font-size="7.8" fill="#141414">B cells</text><rect x="277.7" y="105.97" width="10" height="10.6" fill="#FBBA6E"/><text x="293" y="113.97" font-size="7.8" fill="#141414">CAFs</text><rect x="277.7" y="117.34" width="10" height="10.6" fill="#E31A1C"/><text x="293" y="125.34" font-size="7.8" fill="#141414">T cells CD4<tspan dy="-3.2" font-size="6.2" font-weight="bold">+</tspan></text><rect x="277.7" y="128.71" width="10" height="10.6" fill="#F59A9B"/><text x="293" y="136.71" font-size="7.8" fill="#141414">T cells CD8<tspan dy="-3.2" font-size="6.2" font-weight="bold">+</tspan></text><rect x="277.7" y="140.08" width="10" height="10.6" fill="#1C9A48"/><text x="293" y="148.08" font-size="7.8" fill="#141414">Endothelial cells</text><rect x="277.7" y="151.45" width="10" height="10.6" fill="#B0DA8D"/><text x="293" y="159.45" font-size="7.8" fill="#141414">Macrophages</text><rect x="277.7" y="162.82" width="10" height="10.6" fill="#5F9FCB"/><text x="293" y="170.82" font-size="7.8" fill="#141414">Other cells</text><text x="369.4" y="5.60" font-size="6.2" font-weight="bold" fill="#141414">Condition</text><rect x="369.40" y="7.60" width="9.4" height="9.0" fill="#F5C710" stroke="#cfcfcf" stroke-width="0.4"/><text x="380.30" y="14.60" font-size="6.3" fill="#141414">Primary</text><rect x="369.40" y="16.60" width="9.4" height="9.0" fill="#6A3AA0" stroke="#cfcfcf" stroke-width="0.4"/><text x="380.30" y="23.60" font-size="6.3" fill="#141414">Recurrent</text><text x="369.4" y="37.50" font-size="6.2" font-weight="bold" fill="#141414">Initial stage</text><rect x="369.40" y="39.50" width="9.4" height="9.0" fill="#EE8464" stroke="#cfcfcf" stroke-width="0.4"/><text x="380.30" y="46.50" font-size="6.3" fill="#141414">Early stage</text><rect x="369.40" y="48.50" width="9.4" height="9.0" fill="#C41E2A" stroke="#cfcfcf" stroke-width="0.4"/><text x="380.30" y="55.50" font-size="6.3" fill="#141414">Advanced stage</text><rect x="369.40" y="57.50" width="9.4" height="9.0" fill="#FDF6E8" stroke="#cfcfcf" stroke-width="0.4"/><text x="380.30" y="64.50" font-size="6.3" fill="#141414">Unknown</text><text x="369.4" y="77.40" font-size="6.2" font-weight="bold" fill="#141414">Age at diagnosis</text><rect x="369.40" y="79.40" width="9.4" height="9.0" fill="#FFF6CF" stroke="#cfcfcf" stroke-width="0.4"/><text x="380.30" y="86.40" font-size="6.3" fill="#141414">Younger than 40</text><rect x="369.40" y="88.40" width="9.4" height="9.0" fill="#A5DAB6" stroke="#cfcfcf" stroke-width="0.4"/><text x="380.30" y="95.40" font-size="6.3" fill="#141414">40–49</text><rect x="369.40" y="97.40" width="9.4" height="9.0" fill="#1E93C6" stroke="#cfcfcf" stroke-width="0.4"/><text x="380.30" y="104.40" font-size="6.3" fill="#141414">50–59</text><rect x="369.40" y="106.40" width="9.4" height="9.0" fill="#2157A6" stroke="#cfcfcf" stroke-width="0.4"/><text x="380.30" y="113.40" font-size="6.3" fill="#141414">60–69</text><rect x="369.40" y="115.40" width="9.4" height="9.0" fill="#1F1A5A" stroke="#cfcfcf" stroke-width="0.4"/><text x="380.30" y="122.40" font-size="6.3" fill="#141414">70 and Older</text><text x="369.4" y="135.30" font-size="6.2" font-weight="bold" fill="#141414">Prior chemo</text><rect x="369.40" y="137.30" width="9.4" height="9.0" fill="#E6F5F9" stroke="#cfcfcf" stroke-width="0.4"/><text x="380.30" y="144.30" font-size="6.3" fill="#141414">No</text><rect x="369.40" y="146.30" width="9.4" height="9.0" fill="#12796F" stroke="#cfcfcf" stroke-width="0.4"/><text x="380.30" y="153.30" font-size="6.3" fill="#141414">Yes</text><text x="438.2" y="5.20" font-size="6.2" font-weight="bold" fill="#141414">Anatomical tumor site</text><rect x="438.20" y="7.20" width="9.4" height="9.0" fill="#FBEE94" stroke="#cfcfcf" stroke-width="0.4"/><text x="449.10" y="14.20" font-size="6.3" fill="#141414">Ovary</text><rect x="438.20" y="16.20" width="9.4" height="9.0" fill="#B0521E" stroke="#cfcfcf" stroke-width="0.4"/><text x="449.10" y="23.20" font-size="6.3" fill="#141414">Abdomen pelvis</text><rect x="438.20" y="25.20" width="9.4" height="9.0" fill="#3A3228" stroke="#cfcfcf" stroke-width="0.4"/><text x="449.10" y="32.20" font-size="6.3" fill="#141414">Liver</text><rect x="438.20" y="34.20" width="9.4" height="9.0" fill="#A8D0E6" stroke="#cfcfcf" stroke-width="0.4"/><text x="449.10" y="41.20" font-size="6.3" fill="#141414">Large bowel</text><rect x="438.20" y="43.20" width="9.4" height="9.0" fill="#1E9E4A" stroke="#cfcfcf" stroke-width="0.4"/><text x="449.10" y="50.20" font-size="6.3" fill="#141414">Spleen</text><text x="438.2" y="62.70" font-size="6.2" font-weight="bold" fill="#141414">KMT2D frameshift mutation</text><rect x="438.20" y="64.70" width="9.4" height="9.0" fill="#E4E2F5" stroke="#cfcfcf" stroke-width="0.4"/><text x="449.10" y="71.70" font-size="6.3" fill="#141414">No</text><rect x="438.20" y="73.70" width="9.4" height="9.0" fill="#2C2E96" stroke="#cfcfcf" stroke-width="0.4"/><text x="449.10" y="80.70" font-size="6.3" fill="#141414">Yes</text><text x="438.2" y="94.40" font-size="6.2" font-weight="bold" fill="#141414">Chr3p29 deletion</text><rect x="438.20" y="96.40" width="9.4" height="9.0" fill="#FFFAE4" stroke="#cfcfcf" stroke-width="0.4"/><text x="449.10" y="103.40" font-size="6.3" fill="#141414">No</text><rect x="438.20" y="105.40" width="9.4" height="9.0" fill="#EDBB22" stroke="#cfcfcf" stroke-width="0.4"/><text x="449.10" y="112.40" font-size="6.3" fill="#141414">Yes</text><text x="438.2" y="125.10" font-size="6.2" font-weight="bold" fill="#141414">Chr21q22.3 deletion</text><rect x="438.20" y="127.10" width="9.4" height="9.0" fill="#FEF2E6" stroke="#cfcfcf" stroke-width="0.4"/><text x="449.10" y="134.10" font-size="6.3" fill="#141414">No</text><rect x="438.20" y="136.10" width="9.4" height="9.0" fill="#F07D22" stroke="#cfcfcf" stroke-width="0.4"/><text x="449.10" y="143.10" font-size="6.3" fill="#141414">Yes</text><rect x="70.6" y="247.7" width="28.6" height="129.8" fill="#FEF1E2"/><rect x="101.4" y="247.7" width="29.4" height="129.8" fill="#FEF1E2"/><line x1="34.00" y1="356.60" x2="70.60" y2="356.60" stroke="#F5F3F0" stroke-width="0.6"/><line x1="70.60" y1="356.60" x2="99.20" y2="356.60" stroke="#FFF6EC" stroke-width="0.6"/><line x1="99.20" y1="356.60" x2="101.40" y2="356.60" stroke="#F5F3F0" stroke-width="0.6"/><line x1="101.40" y1="356.60" x2="130.80" y2="356.60" stroke="#FFF6EC" stroke-width="0.6"/><line x1="130.80" y1="356.60" x2="230.50" y2="356.60" stroke="#F5F3F0" stroke-width="0.6"/><line x1="34.00" y1="314.80" x2="70.60" y2="314.80" stroke="#F5F3F0" stroke-width="0.6"/><line x1="70.60" y1="314.80" x2="99.20" y2="314.80" stroke="#FFF6EC" stroke-width="0.6"/><line x1="99.20" y1="314.80" x2="101.40" y2="314.80" stroke="#F5F3F0" stroke-width="0.6"/><line x1="101.40" y1="314.80" x2="130.80" y2="314.80" stroke="#FFF6EC" stroke-width="0.6"/><line x1="130.80" y1="314.80" x2="230.50" y2="314.80" stroke="#F5F3F0" stroke-width="0.6"/><line x1="34.00" y1="273.00" x2="70.60" y2="273.00" stroke="#F5F3F0" stroke-width="0.6"/><line x1="70.60" y1="273.00" x2="99.20" y2="273.00" stroke="#FFF6EC" stroke-width="0.6"/><line x1="99.20" y1="273.00" x2="101.40" y2="273.00" stroke="#F5F3F0" stroke-width="0.6"/><line x1="101.40" y1="273.00" x2="130.80" y2="273.00" stroke="#FFF6EC" stroke-width="0.6"/><line x1="130.80" y1="273.00" x2="230.50" y2="273.00" stroke="#F5F3F0" stroke-width="0.6"/><line x1="34.00" y1="377.50" x2="70.60" y2="377.50" stroke="#ECE9E5" stroke-width="0.8"/><line x1="70.60" y1="377.50" x2="99.20" y2="377.50" stroke="#FFF8F0" stroke-width="0.8"/><line x1="99.20" y1="377.50" x2="101.40" y2="377.50" stroke="#ECE9E5" stroke-width="0.8"/><line x1="101.40" y1="377.50" x2="130.80" y2="377.50" stroke="#FFF8F0" stroke-width="0.8"/><line x1="130.80" y1="377.50" x2="230.50" y2="377.50" stroke="#ECE9E5" stroke-width="0.8"/><line x1="34.00" y1="335.70" x2="70.60" y2="335.70" stroke="#ECE9E5" stroke-width="0.8"/><line x1="70.60" y1="335.70" x2="99.20" y2="335.70" stroke="#FFF8F0" stroke-width="0.8"/><line x1="99.20" y1="335.70" x2="101.40" y2="335.70" stroke="#ECE9E5" stroke-width="0.8"/><line x1="101.40" y1="335.70" x2="130.80" y2="335.70" stroke="#FFF8F0" stroke-width="0.8"/><line x1="130.80" y1="335.70" x2="230.50" y2="335.70" stroke="#ECE9E5" stroke-width="0.8"/><line x1="34.00" y1="293.90" x2="70.60" y2="293.90" stroke="#ECE9E5" stroke-width="0.8"/><line x1="70.60" y1="293.90" x2="99.20" y2="293.90" stroke="#FFF8F0" stroke-width="0.8"/><line x1="99.20" y1="293.90" x2="101.40" y2="293.90" stroke="#ECE9E5" stroke-width="0.8"/><line x1="101.40" y1="293.90" x2="130.80" y2="293.90" stroke="#FFF8F0" stroke-width="0.8"/><line x1="130.80" y1="293.90" x2="230.50" y2="293.90" stroke="#ECE9E5" stroke-width="0.8"/><line x1="34.00" y1="252.10" x2="70.60" y2="252.10" stroke="#ECE9E5" stroke-width="0.8"/><line x1="70.60" y1="252.10" x2="99.20" y2="252.10" stroke="#FFF8F0" stroke-width="0.8"/><line x1="99.20" y1="252.10" x2="101.40" y2="252.10" stroke="#ECE9E5" stroke-width="0.8"/><line x1="101.40" y1="252.10" x2="130.80" y2="252.10" stroke="#FFF8F0" stroke-width="0.8"/><line x1="130.80" y1="252.10" x2="230.50" y2="252.10" stroke="#ECE9E5" stroke-width="0.8"/><line x1="53.0" y1="247.7" x2="53.0" y2="377.5" stroke="#ECE9E5" stroke-width="0.8"/><line x1="84.7" y1="247.7" x2="84.7" y2="377.5" stroke="#FFF8F0" stroke-width="0.8"/><line x1="116.4" y1="247.7" x2="116.4" y2="377.5" stroke="#FFF8F0" stroke-width="0.8"/><line x1="148.1" y1="247.7" x2="148.1" y2="377.5" stroke="#ECE9E5" stroke-width="0.8"/><line x1="179.8" y1="247.7" x2="179.8" y2="377.5" stroke="#ECE9E5" stroke-width="0.8"/><line x1="211.5" y1="247.7" x2="211.5" y2="377.5" stroke="#ECE9E5" stroke-width="0.8"/><line x1="78.90" y1="260.20" x2="78.90" y2="312.80" stroke="#5E4E1E" stroke-width="0.75" stroke-opacity="0.75"/><line x1="78.90" y1="367.30" x2="78.90" y2="370.50" stroke="#5E4E1E" stroke-width="0.75" stroke-opacity="0.75"/><rect x="73.30" y="312.80" width="11.20" height="54.50" fill="#F9D86C" stroke="#5E4E1E" stroke-width="0.75"/><line x1="73.30" y1="341.00" x2="84.50" y2="341.00" stroke="#5E4E1E" stroke-width="1.3"/><line x1="90.75" y1="355.50" x2="90.75" y2="363.90" stroke="#4E3088" stroke-width="0.75" stroke-opacity="0.75"/><line x1="90.75" y1="371.40" x2="90.75" y2="373.30" stroke="#4E3088" stroke-width="0.75" stroke-opacity="0.75"/><rect x="84.90" y="363.90" width="11.70" height="7.50" fill="#C29ADA" stroke="#4E3088" stroke-width="0.75"/><line x1="84.90" y1="367.30" x2="96.60" y2="367.30" stroke="#4E3088" stroke-width="1.3"/><line x1="110.85" y1="318.80" x2="110.85" y2="332.30" stroke="#5E4E1E" stroke-width="0.75" stroke-opacity="0.75"/><line x1="110.85" y1="357.30" x2="110.85" y2="358.60" stroke="#5E4E1E" stroke-width="0.75" stroke-opacity="0.75"/><rect x="105.20" y="332.30" width="11.30" height="25.00" fill="#F9D86C" stroke="#5E4E1E" stroke-width="0.75"/><line x1="105.20" y1="349.20" x2="116.50" y2="349.20" stroke="#5E4E1E" stroke-width="1.3"/><line x1="122.50" y1="349.80" x2="122.50" y2="357.30" stroke="#4E3088" stroke-width="0.75" stroke-opacity="0.75"/><line x1="122.50" y1="364.50" x2="122.50" y2="366.70" stroke="#4E3088" stroke-width="0.75" stroke-opacity="0.75"/><rect x="117.20" y="357.30" width="10.60" height="7.20" fill="#C29ADA" stroke="#4E3088" stroke-width="0.75"/><line x1="117.20" y1="361.00" x2="127.80" y2="361.00" stroke="#4E3088" stroke-width="1.3"/><line x1="173.85" y1="327.00" x2="173.85" y2="329.30" stroke="#5E4E1E" stroke-width="0.75" stroke-opacity="0.75"/><line x1="173.85" y1="338.70" x2="173.85" y2="341.50" stroke="#5E4E1E" stroke-width="0.75" stroke-opacity="0.75"/><rect x="168.20" y="329.30" width="11.30" height="9.40" fill="#F9D86C" stroke="#5E4E1E" stroke-width="0.75"/><line x1="168.20" y1="332.20" x2="179.50" y2="332.20" stroke="#5E4E1E" stroke-width="1.3"/><line x1="185.95" y1="315.20" x2="185.95" y2="323.00" stroke="#4E3088" stroke-width="0.75" stroke-opacity="0.75"/><line x1="185.95" y1="340.60" x2="185.95" y2="352.80" stroke="#4E3088" stroke-width="0.75" stroke-opacity="0.75"/><rect x="180.20" y="323.00" width="11.50" height="17.60" fill="#C29ADA" stroke="#4E3088" stroke-width="0.75"/><line x1="180.20" y1="330.00" x2="191.70" y2="330.00" stroke="#4E3088" stroke-width="1.3"/><line x1="205.30" y1="333.50" x2="205.30" y2="339.50" stroke="#5E4E1E" stroke-width="0.75" stroke-opacity="0.75"/><line x1="205.30" y1="350.30" x2="205.30" y2="351.00" stroke="#5E4E1E" stroke-width="0.75" stroke-opacity="0.75"/><rect x="199.40" y="339.50" width="11.80" height="10.80" fill="#F9D86C" stroke="#5E4E1E" stroke-width="0.75"/><line x1="199.40" y1="347.50" x2="211.20" y2="347.50" stroke="#5E4E1E" stroke-width="1.3"/><line x1="217.25" y1="342.00" x2="217.25" y2="343.80" stroke="#4E3088" stroke-width="0.75" stroke-opacity="0.75"/><line x1="217.25" y1="352.00" x2="217.25" y2="359.80" stroke="#4E3088" stroke-width="0.75" stroke-opacity="0.75"/><rect x="211.60" y="343.80" width="11.30" height="8.20" fill="#C29ADA" stroke="#4E3088" stroke-width="0.75"/><line x1="211.60" y1="348.00" x2="222.90" y2="348.00" stroke="#4E3088" stroke-width="1.3"/><rect x="41.7" y="372.4" width="11.5" height="2.3" fill="#3a3818"/><rect x="53.2" y="372.4" width="11.6" height="2.3" fill="#2e2a72"/><rect x="136.5" y="375.9" width="11.5" height="1.6" fill="#2a2a10"/><rect x="148.0" y="375.9" width="11.6" height="1.6" fill="#1a1a50"/><circle cx="84.6" cy="250" r="1.3" fill="#111"/><circle cx="116.6" cy="250" r="1.3" fill="#111"/><circle cx="77.5" cy="293" r="0.55" fill="#555"/><circle cx="79.3" cy="261" r="0.55" fill="#555"/><circle cx="78.7" cy="319.4" r="0.6" fill="#555"/><circle cx="78.3" cy="333.5" r="0.6" fill="#555"/><circle cx="78.7" cy="349.2" r="0.6" fill="#555"/><circle cx="79.7" cy="370.0" r="0.6" fill="#555"/><circle cx="90.2" cy="329.1" r="0.6" fill="#333"/><circle cx="91.5" cy="353.2" r="0.6" fill="#333"/><circle cx="90.5" cy="360.0" r="0.55" fill="#333"/><circle cx="90.5" cy="372.5" r="0.6" fill="#333"/><circle cx="111.6" cy="335.2" r="0.6" fill="#555"/><circle cx="112.2" cy="342.9" r="0.6" fill="#555"/><circle cx="110.3" cy="358.6" r="0.6" fill="#555"/><circle cx="111.0" cy="319.5" r="0.55" fill="#555"/><circle cx="121.5" cy="282.8" r="0.6" fill="#333"/><circle cx="122.9" cy="350.4" r="0.6" fill="#333"/><circle cx="122.0" cy="362.0" r="0.55" fill="#333"/><circle cx="121.8" cy="366.0" r="0.55" fill="#333"/><circle cx="173.7" cy="315.4" r="0.6" fill="#444"/><circle cx="173.7" cy="334.4" r="0.55" fill="#555"/><circle cx="173.0" cy="340.5" r="0.55" fill="#555"/><circle cx="186.2" cy="295.3" r="0.6" fill="#333"/><circle cx="187.4" cy="296.5" r="0.6" fill="#333"/><circle cx="185.4" cy="316.4" r="0.6" fill="#333"/><circle cx="186.4" cy="327" r="0.55" fill="#333"/><circle cx="186.4" cy="333.3" r="0.55" fill="#333"/><circle cx="184.3" cy="342.9" r="0.55" fill="#333"/><circle cx="184.7" cy="346" r="0.55" fill="#333"/><circle cx="185.4" cy="352.4" r="0.6" fill="#333"/><circle cx="204.4" cy="334.4" r="0.55" fill="#555"/><circle cx="205.0" cy="348.0" r="0.55" fill="#555"/><circle cx="216.0" cy="312.8" r="0.6" fill="#333"/><circle cx="216.0" cy="329.0" r="0.6" fill="#333"/><circle cx="217.0" cy="347.0" r="0.55" fill="#333"/><circle cx="216.7" cy="354.5" r="0.55" fill="#333"/><circle cx="216.7" cy="358.7" r="0.6" fill="#333"/><circle cx="155" cy="368" r="0.6" fill="#333"/><circle cx="153" cy="374" r="0.5" fill="#333"/><circle cx="48" cy="371.5" r="0.5" fill="#333"/><circle cx="58" cy="373" r="0.5" fill="#333"/><line x1="34.0" y1="248" x2="34.0" y2="377.5" stroke="#333" stroke-width="0.9"/><line x1="34.0" y1="377.5" x2="230.5" y2="377.5" stroke="#333" stroke-width="0.9"/><line x1="32.2" y1="377.50" x2="34.0" y2="377.50" stroke="#333" stroke-width="0.7"/><text x="30.8" y="380.20" font-size="7.7" text-anchor="end" fill="#1e1e1e">0.00</text><line x1="32.2" y1="335.70" x2="34.0" y2="335.70" stroke="#333" stroke-width="0.7"/><text x="30.8" y="338.40" font-size="7.7" text-anchor="end" fill="#1e1e1e">0.05</text><line x1="32.2" y1="293.90" x2="34.0" y2="293.90" stroke="#333" stroke-width="0.7"/><text x="30.8" y="296.60" font-size="7.7" text-anchor="end" fill="#1e1e1e">0.10</text><line x1="32.2" y1="252.10" x2="34.0" y2="252.10" stroke="#333" stroke-width="0.7"/><text x="30.8" y="254.80" font-size="7.7" text-anchor="end" fill="#1e1e1e">0.15</text><text transform="translate(10.0,312.8) rotate(-90)" font-size="9.5" text-anchor="middle" fill="#141414">Cell fractions</text><line x1="53.0" y1="377.5" x2="53.0" y2="379.3" stroke="#333" stroke-width="0.7"/><text transform="translate(57.40,385.40) rotate(-45)" font-size="8.1" text-anchor="end" fill="#1e1e1e">B cells</text><line x1="84.7" y1="377.5" x2="84.7" y2="379.3" stroke="#333" stroke-width="0.7"/><text transform="translate(89.10,385.40) rotate(-45)" font-size="8.1" text-anchor="end" fill="#1e1e1e">CAFs</text><line x1="116.4" y1="377.5" x2="116.4" y2="379.3" stroke="#333" stroke-width="0.7"/><text transform="translate(120.80,385.40) rotate(-45)" font-size="8.1" text-anchor="end" fill="#1e1e1e">Endothelial cells</text><line x1="148.1" y1="377.5" x2="148.1" y2="379.3" stroke="#333" stroke-width="0.7"/><text transform="translate(152.50,385.40) rotate(-45)" font-size="8.1" text-anchor="end" fill="#1e1e1e">Macrophages</text><line x1="179.8" y1="377.5" x2="179.8" y2="379.3" stroke="#333" stroke-width="0.7"/><text transform="translate(184.20,385.40) rotate(-45)" font-size="8.1" text-anchor="end" fill="#1e1e1e">T cells CD4<tspan dy="-3.6" font-size="5.8">+</tspan></text><line x1="211.5" y1="377.5" x2="211.5" y2="379.3" stroke="#333" stroke-width="0.7"/><text transform="translate(215.90,385.40) rotate(-45)" font-size="8.1" text-anchor="end" fill="#1e1e1e">T cells CD8<tspan dy="-3.6" font-size="5.8">+</tspan></text><rect x="195" y="239" width="50" height="42" fill="#fff"/><text x="198.7" y="251" font-size="8.8" fill="#141414">Condition</text><line x1="203.9" y1="257.9" x2="203.9" y2="265.4" stroke="#5E4E1E" stroke-width="0.7"/><rect x="199.6" y="258.90" width="8.6" height="5.6" fill="#F3E39A" stroke="#5E4E1E" stroke-width="0.8"/><line x1="199.6" y1="261.70" x2="208.2" y2="261.70" stroke="#5E4E1E" stroke-width="1.0"/><text x="214.2" y="264.20" font-size="6.4" fill="#1e1e1e">Primary</text><line x1="203.9" y1="269.4" x2="203.9" y2="276.9" stroke="#4E3088" stroke-width="0.7"/><rect x="199.6" y="270.40" width="8.6" height="5.6" fill="#BFA0D8" stroke="#4E3088" stroke-width="0.8"/><line x1="199.6" y1="273.20" x2="208.2" y2="273.20" stroke="#4E3088" stroke-width="1.0"/><text x="214.2" y="275.70" font-size="6.4" fill="#1e1e1e">Recurrent</text><rect x="335.3" y="263.3" width="150.18" height="149.39999999999998" fill="#fff"/><line x1="335.30" y1="263.3" x2="335.30" y2="412.70" stroke="#DCD8D0" stroke-width="0.75"/><line x1="335.3" y1="263.30" x2="485.48" y2="263.30" stroke="#DCD8D0" stroke-width="0.75"/><line x1="360.33" y1="263.3" x2="360.33" y2="412.70" stroke="#DCD8D0" stroke-width="0.75"/><line x1="335.3" y1="288.20" x2="485.48" y2="288.20" stroke="#DCD8D0" stroke-width="0.75"/><line x1="385.36" y1="263.3" x2="385.36" y2="412.70" stroke="#DCD8D0" stroke-width="0.75"/><line x1="335.3" y1="313.10" x2="485.48" y2="313.10" stroke="#DCD8D0" stroke-width="0.75"/><line x1="410.39" y1="263.3" x2="410.39" y2="412.70" stroke="#DCD8D0" stroke-width="0.75"/><line x1="335.3" y1="338.00" x2="485.48" y2="338.00" stroke="#DCD8D0" stroke-width="0.75"/><line x1="435.42" y1="263.3" x2="435.42" y2="412.70" stroke="#DCD8D0" stroke-width="0.75"/><line x1="335.3" y1="362.90" x2="485.48" y2="362.90" stroke="#DCD8D0" stroke-width="0.75"/><line x1="460.45" y1="263.3" x2="460.45" y2="412.70" stroke="#DCD8D0" stroke-width="0.75"/><line x1="335.3" y1="387.80" x2="485.48" y2="387.80" stroke="#DCD8D0" stroke-width="0.75"/><line x1="485.48" y1="263.3" x2="485.48" y2="412.70" stroke="#DCD8D0" stroke-width="0.75"/><line x1="335.3" y1="412.70" x2="485.48" y2="412.70" stroke="#DCD8D0" stroke-width="0.75"/><circle cx="347.81" cy="275.75" r="11.35" fill="#2A1B5C" stroke="#1d1045" stroke-width="0.6"/><text x="347.81" y="277.95" font-size="6.4" font-weight="bold" text-anchor="middle" fill="#1c1240">1</text><circle cx="372.85" cy="275.75" r="6.01" fill="#d5d6e9"/><text x="372.85" y="278.55" font-size="6.5" font-weight="bold" text-anchor="middle" fill="#1a1a1a" style="stroke-width:0.15px">0.28</text><circle cx="397.88" cy="275.75" r="5.44" fill="#dcdeed"/><text x="397.88" y="278.55" font-size="6.5" font-weight="bold" text-anchor="middle" fill="#1a1a1a" style="stroke-width:0.15px">0.23</text><circle cx="422.90" cy="275.75" r="2.54" fill="#f3f3f5"/><text x="422.90" y="278.55" font-size="6.5" font-weight="bold" text-anchor="middle" fill="#1a1a1a" style="stroke-width:0.15px">0.05</text><circle cx="447.94" cy="275.75" r="4.09" fill="#faeddb"/><text x="447.94" y="278.55" font-size="6.5" font-weight="bold" text-anchor="middle" fill="#1a1a1a" style="stroke-width:0.15px">−0.13</text><circle cx="472.97" cy="275.75" r="2.54" fill="#f8f4ee"/><text x="472.97" y="278.55" font-size="6.5" font-weight="bold" text-anchor="middle" fill="#1a1a1a" style="stroke-width:0.15px">−0.05</text><circle cx="347.81" cy="300.65" r="6.01" fill="#d5d6e9"/><text x="347.81" y="303.45" font-size="6.5" font-weight="bold" text-anchor="middle" fill="#1a1a1a" style="stroke-width:0.15px">0.28</text><circle cx="372.85" cy="300.65" r="11.35" fill="#2A1B5C" stroke="#1d1045" stroke-width="0.6"/><text x="372.85" y="302.85" font-size="6.4" font-weight="bold" text-anchor="middle" fill="#1c1240">1</text><circle cx="397.88" cy="300.65" r="7.94" fill="#aca4cd"/><text x="397.88" y="303.45" font-size="6.5" font-weight="bold" text-anchor="middle" fill="#1a1a1a" style="stroke-width:0.15px">0.49</text><circle cx="422.90" cy="300.65" r="4.40" fill="#e7e8f1"/><text x="422.90" y="303.45" font-size="6.5" font-weight="bold" text-anchor="middle" fill="#1a1a1a" style="stroke-width:0.15px">0.15</text><circle cx="447.94" cy="300.65" r="1.14" fill="#f7f7f6"/><text x="447.94" y="303.45" font-size="6.5" font-weight="bold" text-anchor="middle" fill="#1a1a1a" style="stroke-width:0.15px">−0.01</text><circle cx="472.97" cy="300.65" r="4.40" fill="#e7e8f1"/><text x="472.97" y="303.45" font-size="6.5" font-weight="bold" text-anchor="middle" fill="#1a1a1a" style="stroke-width:0.15px">0.15</text><circle cx="347.81" cy="325.55" r="5.44" fill="#dcdeed"/><text x="347.81" y="328.35" font-size="6.5" font-weight="bold" text-anchor="middle" fill="#1a1a1a" style="stroke-width:0.15px">0.23</text><circle cx="372.85" cy="325.55" r="7.94" fill="#aca4cd"/><text x="372.85" y="328.35" font-size="6.5" font-weight="bold" text-anchor="middle" fill="#1a1a1a" style="stroke-width:0.15px">0.49</text><circle cx="397.88" cy="325.55" r="11.35" fill="#2A1B5C" stroke="#1d1045" stroke-width="0.6"/><text x="397.88" y="327.75" font-size="6.4" font-weight="bold" text-anchor="middle" fill="#1c1240">1</text><circle cx="422.90" cy="325.55" r="7.78" fill="#b1aad1"/><text x="422.90" y="328.35" font-size="6.5" font-weight="bold" text-anchor="middle" fill="#1a1a1a" style="stroke-width:0.15px">0.47</text><circle cx="447.94" cy="325.55" r="5.56" fill="#dbddec"/><text x="447.94" y="328.35" font-size="6.5" font-weight="bold" text-anchor="middle" fill="#1a1a1a" style="stroke-width:0.15px">0.24</text><circle cx="472.97" cy="325.55" r="6.11" fill="#d3d4e8"/><text x="472.97" y="328.35" font-size="6.5" font-weight="bold" text-anchor="middle" fill="#1a1a1a" style="stroke-width:0.15px">0.29</text><circle cx="347.81" cy="350.45" r="2.54" fill="#f3f3f5"/><text x="347.81" y="353.25" font-size="6.5" font-weight="bold" text-anchor="middle" fill="#1a1a1a" style="stroke-width:0.15px">0.05</text><circle cx="372.85" cy="350.45" r="4.40" fill="#e7e8f1"/><text x="372.85" y="353.25" font-size="6.5" font-weight="bold" text-anchor="middle" fill="#1a1a1a" style="stroke-width:0.15px">0.15</text><circle cx="397.88" cy="350.45" r="7.78" fill="#b1aad1"/><text x="397.88" y="353.25" font-size="6.5" font-weight="bold" text-anchor="middle" fill="#1a1a1a" style="stroke-width:0.15px">0.47</text><circle cx="422.90" cy="350.45" r="11.35" fill="#2A1B5C" stroke="#1d1045" stroke-width="0.6"/><text x="422.90" y="352.65" font-size="6.4" font-weight="bold" text-anchor="middle" fill="#1c1240">1</text><circle cx="447.94" cy="350.45" r="4.40" fill="#e7e8f1"/><text x="447.94" y="353.25" font-size="6.5" font-weight="bold" text-anchor="middle" fill="#1a1a1a" style="stroke-width:0.15px">0.15</text><circle cx="472.97" cy="350.45" r="4.54" fill="#e6e7f0"/><text x="472.97" y="353.25" font-size="6.5" font-weight="bold" text-anchor="middle" fill="#1a1a1a" style="stroke-width:0.15px">0.16</text><circle cx="347.81" cy="375.35" r="4.09" fill="#faeddb"/><text x="347.81" y="378.15" font-size="6.5" font-weight="bold" text-anchor="middle" fill="#1a1a1a" style="stroke-width:0.15px">−0.13</text><circle cx="372.85" cy="375.35" r="1.14" fill="#f7f7f6"/><text x="372.85" y="378.15" font-size="6.5" font-weight="bold" text-anchor="middle" fill="#1a1a1a" style="stroke-width:0.15px">−0.01</text><circle cx="397.88" cy="375.35" r="5.56" fill="#dbddec"/><text x="397.88" y="378.15" font-size="6.5" font-weight="bold" text-anchor="middle" fill="#1a1a1a" style="stroke-width:0.15px">0.24</text><circle cx="422.90" cy="375.35" r="4.40" fill="#e7e8f1"/><text x="422.90" y="378.15" font-size="6.5" font-weight="bold" text-anchor="middle" fill="#1a1a1a" style="stroke-width:0.15px">0.15</text><circle cx="447.94" cy="375.35" r="11.35" fill="#2A1B5C" stroke="#1d1045" stroke-width="0.6"/><text x="447.94" y="377.55" font-size="6.4" font-weight="bold" text-anchor="middle" fill="#1c1240">1</text><circle cx="472.97" cy="375.35" r="8.26" fill="#a198c5"/><text x="472.97" y="378.15" font-size="6.5" font-weight="bold" text-anchor="middle" fill="#1a1a1a" style="stroke-width:0.15px">0.53</text><circle cx="347.81" cy="400.25" r="2.54" fill="#f8f4ee"/><text x="347.81" y="403.05" font-size="6.5" font-weight="bold" text-anchor="middle" fill="#1a1a1a" style="stroke-width:0.15px">−0.05</text><circle cx="372.85" cy="400.25" r="4.40" fill="#e7e8f1"/><text x="372.85" y="403.05" font-size="6.5" font-weight="bold" text-anchor="middle" fill="#1a1a1a" style="stroke-width:0.15px">0.15</text><circle cx="397.88" cy="400.25" r="6.11" fill="#d3d4e8"/><text x="397.88" y="403.05" font-size="6.5" font-weight="bold" text-anchor="middle" fill="#1a1a1a" style="stroke-width:0.15px">0.29</text><circle cx="422.90" cy="400.25" r="4.54" fill="#e6e7f0"/><text x="422.90" y="403.05" font-size="6.5" font-weight="bold" text-anchor="middle" fill="#1a1a1a" style="stroke-width:0.15px">0.16</text><circle cx="447.94" cy="400.25" r="8.26" fill="#a198c5"/><text x="447.94" y="403.05" font-size="6.5" font-weight="bold" text-anchor="middle" fill="#1a1a1a" style="stroke-width:0.15px">0.53</text><circle cx="472.97" cy="400.25" r="11.35" fill="#2A1B5C" stroke="#1d1045" stroke-width="0.6"/><text x="472.97" y="402.45" font-size="6.4" font-weight="bold" text-anchor="middle" fill="#1c1240">1</text><text x="331.5" y="278.05" font-size="6.9" text-anchor="end" fill="#141414">Macrophages</text><text x="331.5" y="302.95" font-size="6.9" text-anchor="end" fill="#141414">Tcells CD4+</text><text x="331.5" y="327.85" font-size="6.9" text-anchor="end" fill="#141414">Endothelial cells</text><text x="331.5" y="352.75" font-size="6.9" text-anchor="end" fill="#141414">CAFs</text><text x="331.5" y="377.65" font-size="6.9" text-anchor="end" fill="#141414">B cells</text><text x="331.5" y="402.55" font-size="6.9" text-anchor="end" fill="#141414">T cells CD8+</text><text transform="translate(349.12,262.60) rotate(-45)" font-size="7.2" fill="#141414">Macrophages</text><text transform="translate(374.15,262.60) rotate(-45)" font-size="7.2" fill="#141414">T cells CD4<tspan dy="-3.2" font-size="5.4">+</tspan></text><text transform="translate(399.18,262.60) rotate(-45)" font-size="7.2" fill="#141414">Endothelial cells</text><text transform="translate(424.20,262.60) rotate(-45)" font-size="7.2" fill="#141414">CAFs</text><text transform="translate(449.24,262.60) rotate(-45)" font-size="7.2" fill="#141414">B cells</text><text transform="translate(474.27,262.60) rotate(-45)" font-size="7.2" fill="#141414">T cells CD8<tspan dy="-3.2" font-size="5.4">+</tspan></text><defs><linearGradient id="pu" x1="0" y1="0" x2="0" y2="1"><stop offset="0.000" stop-color="rgb(45, 0, 75)"/><stop offset="0.100" stop-color="rgb(84, 39, 136)"/><stop offset="0.200" stop-color="rgb(128, 115, 172)"/><stop offset="0.300" stop-color="rgb(178, 171, 210)"/><stop offset="0.400" stop-color="rgb(216, 218, 235)"/><stop offset="0.500" stop-color="rgb(247, 247, 247)"/><stop offset="0.600" stop-color="rgb(254, 224, 182)"/><stop offset="0.700" stop-color="rgb(253, 184, 99)"/><stop offset="0.800" stop-color="rgb(224, 130, 20)"/><stop offset="0.900" stop-color="rgb(179, 88, 6)"/><stop offset="1.000" stop-color="rgb(127, 59, 8)"/></linearGradient></defs><rect x="487.4" y="263.5" width="5.3" height="149.40" fill="url(#pu)" stroke="#6a6a6a" stroke-width="0.6"/><line x1="492.7" y1="263.50" x2="494.6" y2="263.50" stroke="#444" stroke-width="0.6"/><text x="498.8" y="265.50" font-size="5.5" text-anchor="middle" fill="#1e1e1e">1</text><line x1="492.7" y1="278.44" x2="494.6" y2="278.44" stroke="#444" stroke-width="0.6"/><text x="498.8" y="280.44" font-size="5.5" text-anchor="middle" fill="#1e1e1e">0.8</text><line x1="492.7" y1="293.38" x2="494.6" y2="293.38" stroke="#444" stroke-width="0.6"/><text x="498.8" y="295.38" font-size="5.5" text-anchor="middle" fill="#1e1e1e">0.6</text><line x1="492.7" y1="308.32" x2="494.6" y2="308.32" stroke="#444" stroke-width="0.6"/><text x="498.8" y="310.32" font-size="5.5" text-anchor="middle" fill="#1e1e1e">0.4</text><line x1="492.7" y1="323.26" x2="494.6" y2="323.26" stroke="#444" stroke-width="0.6"/><text x="498.8" y="325.26" font-size="5.5" text-anchor="middle" fill="#1e1e1e">0.2</text><line x1="492.7" y1="338.20" x2="494.6" y2="338.20" stroke="#444" stroke-width="0.6"/><text x="498.8" y="340.20" font-size="5.5" text-anchor="middle" fill="#1e1e1e">0</text><line x1="492.7" y1="353.14" x2="494.6" y2="353.14" stroke="#444" stroke-width="0.6"/><text x="498.8" y="355.14" font-size="5.5" text-anchor="middle" fill="#1e1e1e">−0.2</text><line x1="492.7" y1="368.08" x2="494.6" y2="368.08" stroke="#444" stroke-width="0.6"/><text x="498.8" y="370.08" font-size="5.5" text-anchor="middle" fill="#1e1e1e">−0.4</text><line x1="492.7" y1="383.02" x2="494.6" y2="383.02" stroke="#444" stroke-width="0.6"/><text x="498.8" y="385.02" font-size="5.5" text-anchor="middle" fill="#1e1e1e">−0.6</text><line x1="492.7" y1="397.96" x2="494.6" y2="397.96" stroke="#444" stroke-width="0.6"/><text x="498.8" y="399.96" font-size="5.5" text-anchor="middle" fill="#1e1e1e">−0.8</text><line x1="492.7" y1="412.90" x2="494.6" y2="412.90" stroke="#444" stroke-width="0.6"/><text x="498.8" y="414.90" font-size="5.5" text-anchor="middle" fill="#1e1e1e">−1</text></svg>
</body></html>
